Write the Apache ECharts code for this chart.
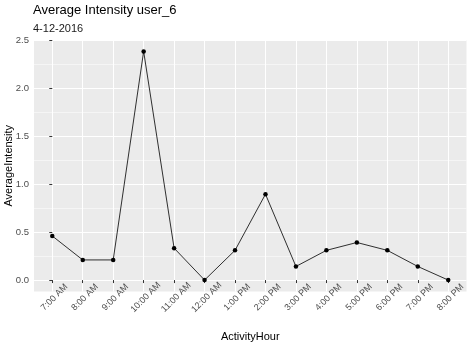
<!DOCTYPE html>
<html>
<head>
<meta charset="utf-8">
<script src="https://cdn.jsdelivr.net/npm/echarts@6/dist/echarts.min.js"></script>
<style>
  html, body { margin: 0; padding: 0; background: #fff; }
  #chart { width: 474px; height: 348px; }
</style>
</head>
<body>
<div id="chart"></div>
<script>
// Hourly average intensity for user_6 on 4-12-2016
const activityHours = ['7:00 AM', '8:00 AM', '9:00 AM', '10:00 AM', '11:00 AM', '12:00 AM',
  '1:00 PM', '2:00 PM', '3:00 PM', '4:00 PM', '5:00 PM', '6:00 PM', '7:00 PM', '8:00 PM'];
const averageIntensity = [0.46, 0.21, 0.21, 2.385, 0.333, 0, 0.31, 0.896, 0.142, 0.31, 0.392, 0.31, 0.142, 0];
const yTicks = [0, 0.5, 1, 1.5, 2, 2.5];
const yMinorTicks = [0.25, 0.75, 1.25, 1.75, 2.25];

const FONT = '"Liberation Sans", Arial, sans-serif';
const xIdx = activityHours.map((_, i) => i);

// continuous-scale padding of 5% on y, 0.6 units on the discrete x
const yLo = Math.min(...averageIntensity), yHi = Math.max(...averageIntensity);
const yPad = (yHi - yLo) * 0.05;

const chart = echarts.init(document.getElementById('chart'), null, { renderer: 'canvas' });
chart.setOption({
  animation: false,
  backgroundColor: '#ffffff',
  title: [
    { text: 'Average Intensity user_6', left: 33, top: 4, padding: 0,
      textStyle: { fontFamily: FONT, fontSize: 13, fontWeight: 'normal', color: '#000' } },
    { text: '4-12-2016', left: 33, top: 23, padding: 0,
      textStyle: { fontFamily: FONT, fontSize: 11, fontWeight: 'normal', color: '#1a1a1a' } }
  ],
  grid: {
    left: 34, right: 7.5, top: 40, bottom: 56.5,
    show: true, backgroundColor: '#EBEBEB', borderWidth: 0,
    containLabel: false, outerBoundsMode: 'none'
  },
  xAxis: {
    type: 'value',
    min: -0.6, max: activityHours.length - 1 + 0.6,
    name: 'ActivityHour', nameLocation: 'middle', nameGap: 40, nameMoveOverlap: false,
    nameTextStyle: { fontFamily: FONT, fontSize: 11, color: '#000' },
    axisLine: { show: false },
    axisTick: { show: true, length: 3, customValues: xIdx, lineStyle: { color: '#333', width: 1 } },
    axisLabel: {
      customValues: xIdx, rotate: 45, align: 'center', verticalAlign: 'middle', margin: 8,
      padding: [0, 0, 0, 6],
      hideOverlap: false, showMinLabel: true, showMaxLabel: true,
      fontFamily: FONT, fontSize: 9, color: '#4D4D4D',
      formatter: v => activityHours[Math.round(v)] || ''
    },
    splitLine: { show: true, lineStyle: { color: '#ffffff', width: 1.1 } }
  },
  yAxis: [
    {
      type: 'value',
      min: yLo - yPad, max: yHi + yPad,
      name: 'AverageIntensity', nameLocation: 'middle', nameGap: 20, nameRotate: 90,
      nameMoveOverlap: false,
      nameTextStyle: { fontFamily: FONT, fontSize: 11, color: '#000' },
      axisLine: { show: false },
      axisTick: { show: true, length: 3, customValues: yTicks, lineStyle: { color: '#333', width: 1 } },
      axisLabel: {
        customValues: yTicks, margin: 5, fontFamily: FONT, fontSize: 9.5, color: '#4D4D4D',
        formatter: v => v.toFixed(1)
      },
      splitLine: { show: true, lineStyle: { color: '#ffffff', width: 1.1 } }
    },
    {
      // minor horizontal grid
      type: 'value', position: 'left', offset: 0,
      min: yLo - yPad, max: yHi + yPad,
      axisLine: { show: false },
      axisTick: { show: false, customValues: yMinorTicks },
      axisLabel: { show: false, customValues: yMinorTicks },
      splitLine: { show: true, lineStyle: { color: '#ffffff', width: 0.5 } }
    }
  ],
  series: [{
    type: 'line',
    data: averageIntensity.map((v, i) => [i, v]),
    xAxisIndex: 0, yAxisIndex: 0,
    symbol: 'circle', symbolSize: 4.5,
    itemStyle: { color: '#000' },
    lineStyle: { color: '#1a1a1a', width: 0.9 },
    z: 5
  }]
});
</script>
</body>
</html>
